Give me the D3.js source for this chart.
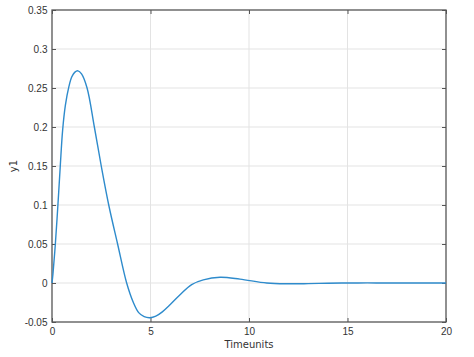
<!DOCTYPE html>
<html>
<head>
<meta charset="utf-8">
<script src="https://cdn.jsdelivr.net/npm/d3@7"></script>
<style>
  body { margin: 0; background: #fff; }
  svg { display: block; font-family: "DejaVu Sans", sans-serif; }
  .tick text { fill: #333; font-size: 10px; }
</style>
</head>
<body>
<div id="chart"></div>
<script>
// Data
const times = [0, 0.05, 0.17, 0.3, 0.42, 0.54, 0.68, 0.86, 1.0, 1.15, 1.32, 1.5, 1.78, 2.15, 2.5, 2.88, 3.33, 3.79,
  4.13, 4.4, 4.68, 4.97, 5.27, 5.6, 5.99, 6.5, 7.09, 7.68, 8.53, 9.54, 10.9, 12, 13, 14, 15, 16, 17, 18, 19, 20];
const y1 = [0, 0.012, 0.05, 0.1, 0.15, 0.196, 0.228, 0.252, 0.264, 0.27, 0.272, 0.268, 0.25, 0.2, 0.15, 0.1, 0.05, 0,
  -0.025, -0.038, -0.0432, -0.0445, -0.0425, -0.037, -0.028, -0.015, -0.002, 0.004, 0.0073, 0.005, 0, -0.001, -0.0008, -0.0003, 0, 0.0001, 0, 0, 0, 0];
const xTicks = [0, 5, 10, 15, 20];
const yTicks = [-0.05, 0, 0.05, 0.1, 0.15, 0.2, 0.25, 0.3, 0.35];

const width = 474, height = 357;
const margin = {top: 10, right: 28, bottom: 35, left: 52};

const svg = d3.select("#chart").append("svg")
  .attr("width", width)
  .attr("height", height);

const x = d3.scaleLinear().domain([0, 20]).range([margin.left, width - margin.right]);
const y = d3.scaleLinear().domain([-0.05, 0.35]).range([height - margin.bottom, margin.top]);

// Grid
svg.append("g")
  .selectAll("line.vgrid")
  .data(xTicks.slice(1, -1))
  .enter().append("line")
  .attr("x1", d => x(d)).attr("x2", d => x(d))
  .attr("y1", y(0.35)).attr("y2", y(-0.05))
  .attr("stroke", "#e3e3e3");

svg.append("g")
  .selectAll("line.hgrid")
  .data(yTicks.slice(1, -1))
  .enter().append("line")
  .attr("x1", x(0)).attr("x2", x(20))
  .attr("y1", d => y(d)).attr("y2", d => y(d))
  .attr("stroke", "#e3e3e3");

// Axes
const fmt = d => String(+d.toFixed(2));
svg.append("g")
  .attr("transform", `translate(0,${y(-0.05)})`)
  .call(d3.axisBottom(x).tickValues(xTicks).tickSize(-4).tickPadding(6).tickFormat(d3.format("d")))
  .call(g => g.select(".domain").remove())
  .call(g => g.selectAll(".tick line").attr("stroke", "#555"));

svg.append("g")
  .attr("transform", `translate(${x(0)},0)`)
  .call(d3.axisLeft(y).tickValues(yTicks).tickSize(-4).tickPadding(4.5).tickFormat(fmt))
  .call(g => g.select(".domain").remove())
  .call(g => g.selectAll(".tick line").attr("stroke", "#555"));

svg.append("g")
  .attr("transform", `translate(0,${y(0.35)})`)
  .call(d3.axisTop(x).tickValues(xTicks).tickSize(-4).tickFormat(""))
  .call(g => g.select(".domain").remove())
  .call(g => g.selectAll(".tick line").attr("stroke", "#555"));

svg.append("g")
  .attr("transform", `translate(${x(20)},0)`)
  .call(d3.axisRight(y).tickValues(yTicks).tickSize(-4).tickFormat(""))
  .call(g => g.select(".domain").remove())
  .call(g => g.selectAll(".tick line").attr("stroke", "#555"));

// Frame
svg.append("rect")
  .attr("x", x(0)).attr("y", y(0.35))
  .attr("width", x(20) - x(0)).attr("height", y(-0.05) - y(0.35))
  .attr("fill", "none")
  .attr("stroke", "#555")
  .attr("stroke-width", 1.3);

// Curve
const line = d3.line()
  .x((d, i) => x(times[i]))
  .y(d => y(d))
  .curve(d3.curveCatmullRom.alpha(0.5));

svg.append("path")
  .datum(y1)
  .attr("fill", "none")
  .attr("stroke", "#2e8bcc")
  .attr("stroke-width", 1.4)
  .attr("d", line);

// Labels
svg.append("text")
  .attr("x", x(10))
  .attr("y", 348)
  .attr("text-anchor", "middle")
  .attr("font-size", 10)
  .attr("fill", "#333")
  .text("Timeunits");

svg.append("text")
  .attr("transform", `translate(17,${y(0.15)}) rotate(-90)`)
  .attr("text-anchor", "middle")
  .attr("font-size", 10)
  .attr("fill", "#333")
  .text("y1");
</script>
</body>
</html>
